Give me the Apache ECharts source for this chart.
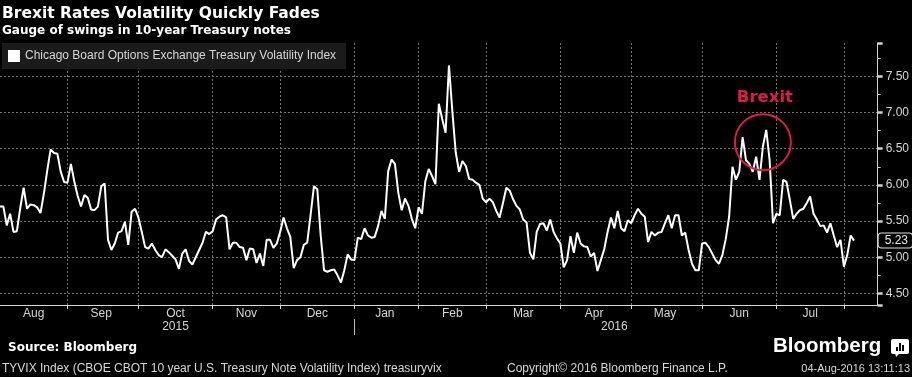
<!DOCTYPE html>
<html>
<head>
<meta charset="utf-8">
<script src="https://cdn.jsdelivr.net/npm/echarts@6/dist/echarts.min.js"></script>
<style>
html,body{margin:0;padding:0;background:#000;}
#chart{width:912px;height:377px;}
</style>
</head>
<body>
<div id="chart"></div>
<script>
// ---- data (TYVIX daily closes, trading days) ----
const seriesName = 'Chicago Board Options Exchange Treasury Volatility Index';
const monthLabels = ['Aug','Sep','Oct','Nov','Dec','Jan','Feb','Mar','Apr','May','Jun','Jul','Aug'];
const yearLabels = ['2015','2016'];
const yearStartMonth = [0, 5];           // month position where each year starts
const aug15 = [5.70,5.70,5.44,5.60,5.35,5.36,5.68,5.96,5.67,5.73,5.72,5.69,5.61,5.88,6.20,6.49,6.44,6.43,6.18,6.04];
const sep15 = [6.03,6.29,6.05,5.85,5.70,5.86,5.82,5.66,5.65,5.70,5.98,6.02,5.24,5.10,5.19,5.34,5.36,5.49,5.17,5.63,5.67];
const oct15 = [5.55,5.35,5.14,5.12,5.19,5.10,5.03,5.00,5.11,5.07,5.02,4.97,4.84,5.05,5.11,4.95,4.90,5.00,5.10,5.20,5.35,5.32];
const nov15 = [5.36,5.52,5.56,5.58,5.55,5.11,5.20,5.20,5.14,5.13,4.96,5.12,5.11,4.92,5.05,4.88,5.24,5.24,5.13,5.19];
const dec15 = [5.35,5.55,5.40,5.28,4.85,4.96,5.00,5.17,5.20,5.58,5.98,5.94,5.30,4.82,4.80,4.82,4.83,4.75,4.65,4.82,5.04,4.97];
const jan16 = [4.96,5.27,5.25,5.40,5.30,5.27,5.28,5.43,5.64,5.53,6.19,6.35,6.29,5.89,5.65,5.81,5.71,5.53,5.40];
const feb16 = [5.69,5.60,6.05,6.22,6.12,6.01,7.12,6.91,6.72,7.65,7.02,6.45,6.18,6.33,6.26,6.08,6.07,6.03,6.00,5.81];
const mar16 = [5.76,5.81,5.76,5.64,5.55,5.75,5.96,5.92,5.80,5.71,5.66,5.52,5.48,5.06,4.97,5.35,5.46,5.47,5.37,5.52,5.35,5.26];
const apr16 = [5.19,4.86,4.96,5.29,5.06,5.34,5.19,5.15,5.14,5.01,5.06,4.81,4.96,5.11,5.35,5.55,5.40,5.64,5.40,5.36,5.51];
const may16 = [5.47,5.58,5.67,5.60,5.56,5.21,5.35,5.30,5.34,5.35,5.47,5.58,5.40,5.58,5.58,5.30,5.34,5.10,4.91,4.82,4.82];
const jun16 = [5.19,5.20,5.14,5.05,4.96,4.91,5.03,5.25,5.56,6.25,6.07,6.18,6.66,6.34,6.29,6.18,6.39,6.07,6.53,6.76,6.34,5.47];
const jul16 = [5.60,5.58,6.07,6.04,5.79,5.53,5.60,5.65,5.67,5.75,5.84,5.60,5.52,5.43,5.44,5.34,5.47,5.30,5.14,5.24];
const aug16 = [4.87,5.03,5.30,5.23];
const trailingDays = 7;                  // empty trading days on the axis after the last close
const yTicks = ['4.50','5.00','5.50','6.00','6.50','7.00','7.50'];
const brexitNote = { label: 'Brexit', dayIndex: 226, value: 6.59 };

// ---- build ----
const monthData = [aug15,sep15,oct15,nov15,dec15,jan16,feb16,mar16,apr16,may16,jun16,jul16,aug16];
const values = [].concat(...monthData);
const total = values.length + trailingDays;
const seriesData = values.concat(new Array(trailingDays).fill(null));
const cats = Array.from({length: total}, (_, i) => 'd' + i);
const monthStart = [];
let acc = 0;
monthData.forEach(m => { monthStart.push(acc); acc += m.length; });
const boundarySet = new Set(monthStart.slice(1));
const monthLabelAt = new Map();
for (let m = 0; m < monthData.length - 1; m++) {
  monthLabelAt.set(Math.floor((monthStart[m] + monthStart[m + 1]) / 2), monthLabels[m]);
}
const yearStarts = yearStartMonth.map(m => monthStart[m]);
const yearLabelAt = new Map();
yearStarts.forEach((s, k) => {
  const e = k + 1 < yearStarts.length ? yearStarts[k + 1] : total - 1;
  yearLabelAt.set(Math.floor((s + e) / 2), yearLabels[k]);
});
const yearBoundary = new Set(yearStarts.slice(1));
const lastValue = values[values.length - 1];

const red = '#e1194c';
const txt = '#d6d6d6';
const gridCol = '#707070';
const sans = '"Liberation Sans", Arial, sans-serif';
const bold = '"DejaVu Sans", Verdana, sans-serif';

const chart = echarts.init(document.getElementById('chart'), null, {renderer: 'canvas'});
chart.setOption({
  backgroundColor: '#000',
  animation: false,
  grid: { left: 0, right: 33, top: 43, bottom: 72, containLabel: false },
  legend: {
    show: true, left: 2, top: 43,
    padding: [7, 10, 7, 6],
    backgroundColor: '#1b1b1b',
    icon: 'rect', itemWidth: 12, itemHeight: 12, itemGap: 10,
    textStyle: { color: txt, fontSize: 12, fontFamily: sans },
    data: [seriesName]
  },
  xAxis: [{
    type: 'category', data: cats, boundaryGap: false,
    axisLine: { show: true, lineStyle: { color: '#d8d8d8', width: 1 } },
    axisTick: { show: true, length: 4, interval: (i) => boundarySet.has(i), lineStyle: { color: '#d8d8d8' } },
    axisLabel: { interval: (i) => monthLabelAt.has(i), formatter: (v, i) => monthLabelAt.get(i) || '',
      color: txt, fontSize: 12, fontFamily: sans, margin: 3 },
    splitLine: { show: true, interval: (i) => boundarySet.has(i), lineStyle: { color: gridCol, type: [2, 2], width: 1 } }
  }, {
    type: 'category', data: cats, boundaryGap: false, position: 'bottom', offset: 14,
    axisLine: { show: false },
    axisTick: { show: true, length: 16, interval: (i) => yearBoundary.has(i), lineStyle: { color: '#bbbbbb' } },
    axisLabel: { interval: (i) => yearLabelAt.has(i), formatter: (v, i) => yearLabelAt.get(i) || '',
      color: txt, fontSize: 12, fontFamily: sans, margin: 2 },
    splitLine: { show: false }
  }],
  yAxis: {
    type: 'value', position: 'right', min: 4.34, max: 7.96, splitNumber: 7,
    axisLine: { show: true, lineStyle: { color: '#cfcfcf' } },
    axisTick: { show: true, length: 5, lineStyle: { color: '#cfcfcf', width: 2.5 } },
    minorTick: { show: true, splitNumber: 2, length: 3, lineStyle: { color: '#cfcfcf' } },
    axisLabel: { color: txt, fontSize: 12, fontFamily: sans, margin: 8, showMinLabel: false, showMaxLabel: false,
      formatter: (v) => { const s = v.toFixed(2); return yTicks.includes(s) ? s : ''; } },
    splitLine: { show: true, showMinLine: false, showMaxLine: false, lineStyle: { color: gridCol, type: [2, 2], width: 1 } },
    axisPointer: {
      show: true, type: 'line', status: 'show', value: lastValue, triggerTooltip: false,
      lineStyle: { color: 'rgba(0,0,0,0)', width: 0 },
      label: { show: true, precision: 2, margin: 2, color: '#e8e8e8', backgroundColor: '#000',
        borderColor: '#e0e0e0', borderWidth: 1, padding: [1, 4, 1, 6], fontSize: 12, fontFamily: sans }
    }
  },
  axisPointer: { triggerOn: 'none' },
  series: [{
    name: seriesName, type: 'line', data: seriesData, xAxisIndex: 0,
    showSymbol: false, symbol: 'none',
    itemStyle: { color: '#ffffff' },
    lineStyle: { color: '#ffffff', width: 2 },
    markPoint: {
      symbol: 'circle', symbolSize: 56, silent: true,
      itemStyle: { color: 'rgba(0,0,0,0)', borderColor: red, borderWidth: 2 },
      label: { show: true, position: 'inside', offset: [2, -44], formatter: brexitNote.label,
        color: red, fontSize: 16.5, fontWeight: 'bold', fontFamily: bold },
      data: [{ coord: [brexitNote.dayIndex, brexitNote.value] }]
    }
  }],
  graphic: [
    { type: 'text', left: 2, top: 6, style: { text: 'Brexit Rates Volatility Quickly Fades', fill: '#fff',
        font: 'bold 15.5px ' + bold } },
    { type: 'text', left: 2, top: 25, style: { text: 'Gauge of swings in 10-year Treasury notes', fill: '#fff',
        font: 'bold 12px ' + bold } },
    { type: 'text', left: 8, top: 342, style: { text: 'Source: Bloomberg', fill: '#fff', font: 'bold 12px ' + bold } },
    { type: 'text', left: 2, top: 363, style: { text: 'TYVIX Index (CBOE CBOT 10 year U.S. Treasury Note Volatility Index) treasuryvix',
        fill: txt, font: '12px ' + sans } },
    { type: 'text', left: 507, top: 363, style: { text: 'Copyright\u00a9 2016 Bloomberg Finance L.P.', fill: txt, font: '12px ' + sans } },
    { type: 'text', right: 2, top: 363, style: { text: '04-Aug-2016 13:11:13', fill: txt, font: '11px ' + sans } },
    { type: 'text', left: 773, top: 336, style: { text: 'Bloomberg', fill: '#fff', font: 'bold 20.5px ' + sans } },
    { type: 'group', left: 891, top: 339, children: [
      { type: 'rect', shape: { x: 0, y: 0, width: 18, height: 15, r: 2 }, style: { fill: '#fff' } },
      { type: 'polygon', shape: { points: [[4, 14], [9, 14], [5, 18]] }, style: { fill: '#fff' } },
      { type: 'rect', shape: { x: 5, y: 8, width: 2, height: 4 }, style: { fill: '#000' } },
      { type: 'rect', shape: { x: 8, y: 4, width: 2, height: 8 }, style: { fill: '#000' } },
      { type: 'rect', shape: { x: 11, y: 6, width: 2, height: 6 }, style: { fill: '#000' } }
    ]}
  ]
});
</script>
</body>
</html>
